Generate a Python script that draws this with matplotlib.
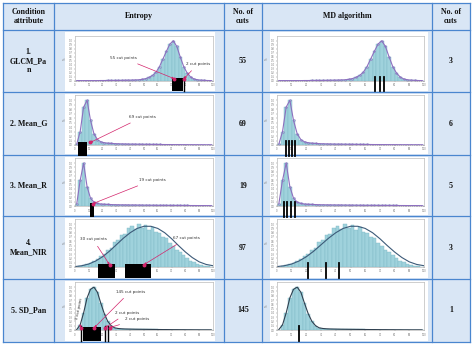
import matplotlib
matplotlib.use("Agg")
import matplotlib.pyplot as plt
from matplotlib.patches import Rectangle
import numpy as np

# table text
header = ["Condition\nattribute", "Entropy", "No. of\ncuts", "MD algorithm", "No. of\ncuts"]
attributes = ["1.\nGLCM_Pa\nn", "2. Mean_G", "3. Mean_R", "4.\nMean_NIR", "5. SD_Pan"]
entropy_cuts = [55, 69, 19, 97, 145]
md_cuts = [3, 6, 5, 3, 1]

# histogram bin heights (40 bins over 0..1, normalised to peak)
glcm_pan = [0.01, 0.01, 0.01, 0.01, 0.01, 0.01, 0.01, 0.012, 0.012, 0.013,
            0.013, 0.014, 0.015, 0.016, 0.018, 0.02, 0.022, 0.025, 0.03, 0.04,
            0.06, 0.09, 0.14, 0.22, 0.36, 0.55, 0.74, 0.92, 1.0, 0.86,
            0.6, 0.36, 0.2, 0.1, 0.05, 0.03, 0.02, 0.015, 0.012, 0.01]
mean_g = [0.02, 0.3, 0.85, 1.0, 0.55, 0.25, 0.12, 0.07, 0.05, 0.04,
          0.035, 0.03, 0.027, 0.024, 0.022, 0.02, 0.019, 0.018, 0.017, 0.016,
          0.015, 0.014, 0.013, 0.012, 0.012, 0.011, 0.01, 0.01, 0.009, 0.009,
          0.008, 0.008, 0.007, 0.007, 0.006, 0.006, 0.006, 0.005, 0.005, 0.005]
mean_r = [0.05, 0.6, 1.0, 0.45, 0.18, 0.09, 0.06, 0.045, 0.04, 0.036,
          0.033, 0.03, 0.028, 0.026, 0.025, 0.024, 0.023, 0.022, 0.021, 0.02,
          0.019, 0.018, 0.017, 0.016, 0.016, 0.015, 0.015, 0.014, 0.014, 0.013,
          0.013, 0.012, 0.012, 0.011, 0.011, 0.01, 0.01, 0.01, 0.009, 0.009]
mean_nir = [0.01, 0.02, 0.04, 0.06, 0.09, 0.13, 0.18, 0.25, 0.3, 0.4,
            0.45, 0.58, 0.62, 0.75, 0.78, 0.9, 0.95, 0.88, 1.0, 0.92,
            0.97, 0.86, 0.93, 0.82, 0.8, 0.7, 0.68, 0.55, 0.5, 0.4,
            0.36, 0.27, 0.22, 0.15, 0.11, 0.07, 0.05, 0.03, 0.02, 0.01]
nir_fit = [0.01, 0.03, 0.07, 0.14, 0.24, 0.37, 0.52, 0.67, 0.8, 0.9, 0.95,
           0.95, 0.9, 0.8, 0.66, 0.5, 0.35, 0.22, 0.12, 0.06, 0.03]
sd_pan = [0.01, 0.12, 0.4, 0.75, 0.95, 1.0, 0.88, 0.62, 0.38, 0.2,
          0.1, 0.05, 0.035, 0.028, 0.024, 0.022, 0.02, 0.018, 0.017, 0.016,
          0.015, 0.014, 0.013, 0.012, 0.011, 0.01, 0.01, 0.009, 0.008, 0.008,
          0.007, 0.007, 0.006, 0.006, 0.005, 0.005, 0.004, 0.004, 0.004, 0.003]
hists = [glcm_pan, mean_g, mean_r, mean_nir, sd_pan]

# cut points (same 0..1 scale)
entropy_blocks = [[(0.70, 0.78)], [(0.02, 0.09)], [(0.11, 0.14)],
                  [(0.17, 0.29), (0.36, 0.55)], [(0.06, 0.19)]]
entropy_lines = [[0.79], [], [], [], [0.04, 0.22, 0.24]]
md_lines = [[0.67, 0.70, 0.73], [0.06, 0.08, 0.10, 0.125],
            [0.05, 0.07, 0.095, 0.12], [0.21, 0.33, 0.42], [0.15]]

# annotations: (text, text pos in axes fraction, target x, rotation)
notes = [
    [("55 cut points", (0.35, 0.51), 0.72, 0), ("2 cut points", (0.89, 0.38), 0.79, 0)],
    [("69 cut points", (0.49, 0.56), 0.11, 0)],
    [("19 cut points", (0.56, 0.54), 0.13, 0)],
    [("30 cut points", (0.13, 0.58), 0.25, 0), ("67 cut points", (0.81, 0.60), 0.50, 0)],
    [("145 cut points", (0.40, 0.80), 0.14, 0), ("1 cut point", (0.03, 0.45), 0.04, 78),
     ("2 cut points", (0.38, 0.36), 0.22, 0), ("2 cut points", (0.45, 0.22), 0.25, 0)],
]

# layout in pixels
col_x = [3, 54, 224, 262, 432, 470]
row_y = [3, 30, 92, 155, 216, 279, 342]
axis_y = [(36, 81), (95, 145), (158, 206), (219, 267), (282, 330)]
ent_x = (75, 213)
md_x = (277, 424)

W, H = 474, 346
fig = plt.figure(figsize=(W / 100, H / 100), dpi=100)
bg = fig.add_axes([0, 0, 1, 1])
bg.set_xlim(0, W)
bg.set_ylim(H, 0)
bg.axis("off")

cell_col = "#d9e6f5"
line_col = "#4a86cf"
bg.add_patch(Rectangle((col_x[0], row_y[0]), col_x[-1] - col_x[0], row_y[-1] - row_y[0],
                       facecolor=cell_col, edgecolor="none"))
for x in col_x:
    bg.plot([x, x], [row_y[0], row_y[-1]], color=line_col, lw=0.9)
for y in row_y:
    bg.plot([col_x[0], col_x[-1]], [y, y], color=line_col, lw=0.9)

tfont = dict(family="Liberation Serif", fontweight="bold", fontsize=5.7,
             color="#111111", ha="center", va="center", linespacing=1.1)
for i, h in enumerate(header):
    bg.text((col_x[i] + col_x[i + 1]) / 2, (row_y[0] + row_y[1]) / 2, h, **tfont)
for r in range(5):
    yc = (row_y[r + 1] + row_y[r + 2]) / 2
    bg.text((col_x[0] + col_x[1]) / 2, yc, attributes[r], **tfont)
    bg.text((col_x[2] + col_x[3]) / 2, yc, str(entropy_cuts[r]), **tfont)
    bg.text((col_x[4] + col_x[5]) / 2, yc, str(md_cuts[r]), **tfont)
    # white picture panels
    bg.add_patch(Rectangle((65, row_y[r + 1] + 2), 150, row_y[r + 2] - row_y[r + 1] - 3,
                           facecolor="white", edgecolor="none"))
    bg.add_patch(Rectangle((270, row_y[r + 1] + 2), 158, row_y[r + 2] - row_y[r + 1] - 3,
                           facecolor="white", edgecolor="none"))

centers = (np.arange(40) + 0.5) / 40
ticks = np.linspace(0, 1, 11)


def hist_axes(x0, x1, y0, y1):
    ax = fig.add_axes([x0 / W, 1 - y1 / H, (x1 - x0) / W, (y1 - y0) / H])
    ax.set_xlim(0, 1)
    ax.set_ylim(0, 1.12)
    for s in ax.spines.values():
        s.set_color("#aaaaaa")
        s.set_linewidth(0.4)
    ax.set_xticks(ticks)
    ax.set_xticklabels(["%d" % (t * 100) for t in ticks])
    ax.set_yticks(ticks)
    ax.set_yticklabels(["%.1f" % t for t in ticks])
    ax.tick_params(labelsize=1.8, length=1, width=0.3, pad=0.8, colors="#777777")
    ax.set_ylabel("%", fontsize=2, labelpad=1, color="#777777")
    return ax


def draw_hist(ax, r):
    h = hists[r]
    ax.bar(centers, h, width=1 / 40, color="#9fd2dc", edgecolor="#7fb9c6", linewidth=0.3)
    if r == 3:
        ax.plot(np.linspace(0, 1, len(nir_fit)), nir_fit, color="#3c5a78", lw=0.8)
    elif r == 4:
        ax.plot(centers, h, color="#2f3f4f", lw=0.8)
    else:
        ax.plot(centers, h, color="#8d6fbf", lw=0.8, marker="o", ms=1.3,
                mfc="none", mew=0.35)


trans_kw = dict(clip_on=False)
for r in range(5):
    y0, y1 = axis_y[r]
    # entropy panel
    ax = hist_axes(ent_x[0], ent_x[1], y0, y1)
    draw_hist(ax, r)
    tr = ax.get_xaxis_transform()
    for a, b in entropy_blocks[r]:
        ax.add_patch(Rectangle((a, -0.22), b - a, 0.28, transform=tr,
                               facecolor="black", edgecolor="none", zorder=5, **trans_kw))
    for x in entropy_lines[r]:
        ax.plot([x, x], [-0.22, 0.08], transform=tr, color="black", lw=1.0, zorder=5, **trans_kw)
    for txt, pos, tx, rot in notes[r]:
        ax.annotate(txt, xy=(tx, 0.05), xycoords=("data", "axes fraction"),
                    xytext=pos, textcoords="axes fraction", fontsize=3,
                    color="#333333", ha="center", va="center", rotation=rot,
                    annotation_clip=False, zorder=6,
                    arrowprops=dict(arrowstyle="-|>", color="#d3246b", lw=0.5,
                                    mutation_scale=3, shrinkA=2, shrinkB=0))
        ax.plot(tx, 0.05, "o", color="#d3246b", ms=1.8, transform=tr, zorder=7, **trans_kw)
    # MD panel
    ax = hist_axes(md_x[0], md_x[1], y0, y1)
    draw_hist(ax, r)
    tr = ax.get_xaxis_transform()
    for x in md_lines[r]:
        ax.plot([x, x], [-0.22, 0.08], transform=tr, color="black", lw=1.3, zorder=5, **trans_kw)

fig.savefig("out.png", dpi=100, facecolor="white")
